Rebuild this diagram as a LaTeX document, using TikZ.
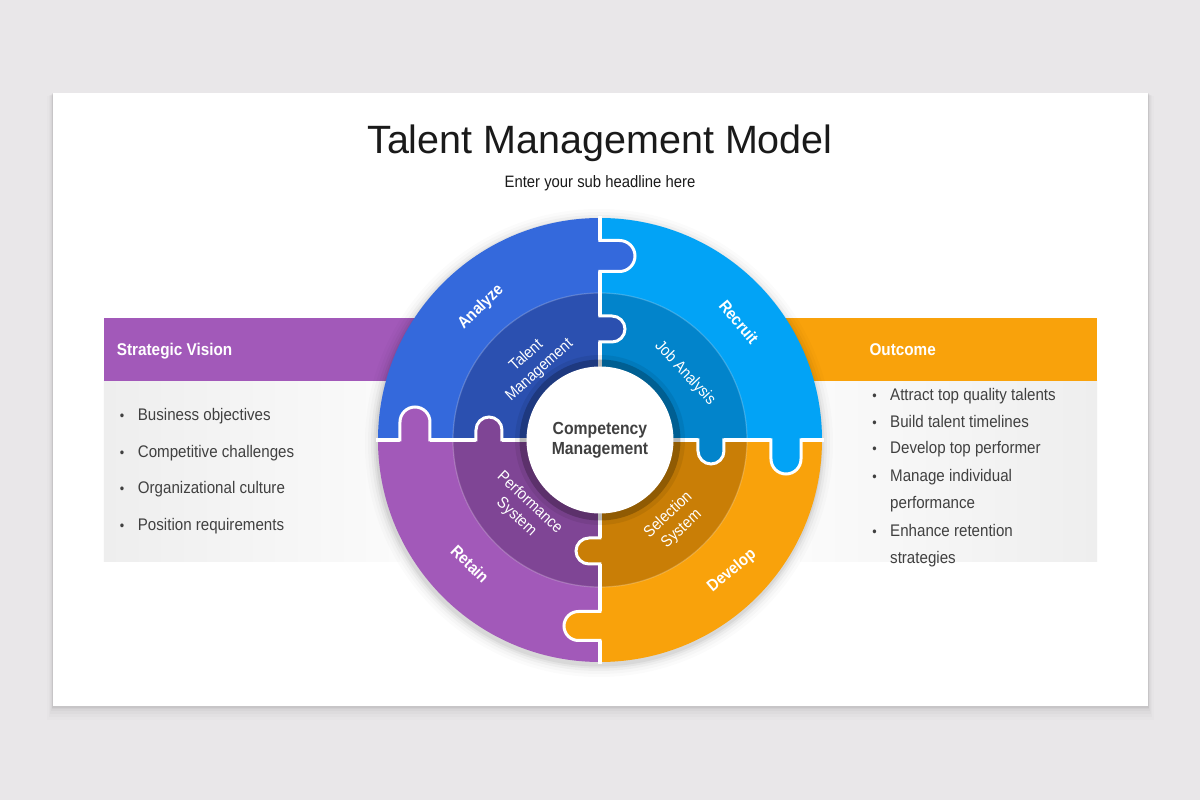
\documentclass[tikz,border=0pt]{standalone}
\usepackage{fontspec}
\setmainfont[FakeStretch=0.9]{Liberation Sans}
\newfontfamily\titlefont{Liberation Sans}
\definecolor{bgc}{HTML}{E9E7E9}
\definecolor{tlo}{HTML}{3469DC}
\definecolor{tlm}{HTML}{2B50B0}
\definecolor{tro}{HTML}{02A3F6}
\definecolor{trm}{HTML}{0284CB}
\definecolor{bro}{HTML}{F9A20B}
\definecolor{brm}{HTML}{C97E06}
\definecolor{blo}{HTML}{A259B9}
\definecolor{blm}{HTML}{7F4595}
\definecolor{pgray}{HTML}{EEEEEE}
\definecolor{pwhite}{HTML}{FBFBFB}
\definecolor{txt}{HTML}{404040}
\definecolor{ttl}{HTML}{1A1A1A}
\tikzset{
  ringlbl/.style={text=white, font=\fontsize{16}{19.5}\selectfont, align=center, inner sep=0pt},
  quadlbl/.style={text=white, font=\bfseries\fontsize{16.5}{19}\selectfont, inner sep=0pt},
  bultxt/.style={text=txt, font=\fontsize{16.8}{20}\selectfont, anchor=base west, inner sep=0pt},
  bulpt/.style={text=txt, font=\fontsize{14}{20}\selectfont, anchor=base, inner sep=0pt},
  headtxt/.style={text=white, font=\bfseries\fontsize{17}{20}\selectfont, anchor=base west, inner sep=0pt},
  gapline/.style={white, line width=3.5},
  tabline/.style={white, line width=3}
}
\newcommand\ptab[5]{%
  \begin{scope}[rotate=#1]
    \fill[#5] (-5,#2-#3) -- (#4-#3,#2-#3) arc[start angle=-90,end angle=90,radius=#3] -- (-5,#2+#3) -- cycle;
    \draw[tabline] (-1.5,#2-#3) -- (#4-#3,#2-#3) arc[start angle=-90,end angle=90,radius=#3] -- (-1.5,#2+#3);
  \end{scope}}
\begin{document}
\begin{tikzpicture}[x=1pt,y=1pt]
\useasboundingbox (-600,-360) rectangle (600,440);
\fill[bgc] (-600,-360) rectangle (600,440);
% card shadow
\foreach \s/\o in {14/0.012,11/0.015,8/0.02,5/0.025,3/0.03,1.5/0.04}{
  \fill[black,opacity=\o] (-547-\s*0.4,-266-\s) rectangle (548+\s*0.4,347-\s*0.2);
}
\fill[white] (-547,-266) rectangle (548,347);
% title
\node[text=ttl, font=\titlefont\fontsize{39.5}{44}\selectfont, anchor=base, inner sep=0pt] (title) at (0,286.5) {Talent Management Model};
\node[text=ttl, font=\fontsize{16.5}{20}\selectfont, anchor=base, inner sep=0pt] (sub) at (0,252) {Enter your sub headline here};
% side panels
\shade[left color=pgray, right color=pwhite] (-496,-122) rectangle (-200,59);
\fill[blo] (-496,59) rectangle (-180,122);
\shade[left color=pwhite, right color=pgray] (200,-122) rectangle (497,59);
\fill[bro] (180,59) rectangle (497,122);
\node[headtxt] (hl) at (-483.3,84.3) {Strategic Vision};
\node[headtxt] (hr) at (269.3,84.3) {Outcome};
\foreach \t [count=\i] in {Business objectives,Competitive challenges,Organizational culture,Position requirements}{
  \pgfmathsetmacro\yy{19-(\i-1)*36.4}
  \node[bulpt] (lbp\i) at (-478,\yy) {•};
  \node[bultxt] (lbt\i) at (-462.3,\yy) {\t};
}
\foreach \t/\yy [count=\i] in {Attract top quality talents/39.3,Build talent timelines/12.7,Develop top performer/-14,Manage individual/-41.7,Enhance retention/-96.7}{
  \node[bulpt] (rbp\i) at (274.5,\yy) {•};
  \node[bultxt] (rbt\i) at (290,\yy) {\t};
}
\node[bultxt] (rbt4b) at (290,-69) {performance};
\node[bultxt] (rbt5b) at (290,-124) {strategies};
% circle shadow
\foreach \r/\o in {234/0.015,231/0.02,228/0.03,225.5/0.04,223.5/0.05}{
  \fill[black,opacity=\o] (-1,-3) circle (\r);
}
% quadrants outer
\fill[tlo] (0,0) -- (-222,0) arc[start angle=180,end angle=90,radius=222] -- cycle;
\fill[tro] (0,0) -- (0,222) arc[start angle=90,end angle=0,radius=222] -- cycle;
\fill[bro] (0,0) -- (222,0) arc[start angle=0,end angle=-90,radius=222] -- cycle;
\fill[blo] (0,0) -- (0,-222) arc[start angle=-90,end angle=-180,radius=222] -- cycle;
% middle ring
\fill[tlm] (0,0) -- (-147,0) arc[start angle=180,end angle=90,radius=147] -- cycle;
\fill[trm] (0,0) -- (0,147) arc[start angle=90,end angle=0,radius=147] -- cycle;
\fill[brm] (0,0) -- (147,0) arc[start angle=0,end angle=-90,radius=147] -- cycle;
\fill[blm] (0,0) -- (0,-147) arc[start angle=-90,end angle=-180,radius=147] -- cycle;
\draw[white,opacity=0.22,line width=1.2] (0,0) circle (147);
% gaps
\draw[gapline] (-224,0) -- (224,0);
\draw[gapline] (0,-224) -- (0,224);
% tabs
\ptab{0}{184}{15.5}{35}{tlo}
\ptab{0}{111}{13}{25}{tlm}
\ptab{-90}{186}{15}{34}{tro}
\ptab{-90}{111}{13}{24}{trm}
\ptab{-180}{186}{14.5}{36}{bro}
\ptab{-180}{111}{13}{24}{brm}
\ptab{-270}{185}{15}{33}{blo}
\ptab{-270}{111}{13}{23}{blm}
% center
\fill[black,opacity=0.22] (0,0) circle (80.5);
\fill[black,opacity=0.07] (0,0) circle (85);
\fill[white] (0,0) circle (73.5);
\node[text=txt, font=\bfseries\fontsize{17.5}{20}\selectfont, align=center, inner sep=0pt] (core) at (0,0) {Competency\\Management};
% quadrant labels
\node[quadlbl, rotate=44] (analyze) at (-119,133) {Analyze};
\node[quadlbl, rotate=-50] (recruit) at (139,118) {Recruit};
\node[quadlbl, rotate=-44] (retain) at (-130,-124) {Retain};
\node[quadlbl, rotate=40] (develop) at (132,-131) {Develop};
% ring labels
\node[ringlbl, rotate=42] (talent) at (-67,77) {Talent\\Management};
\node[ringlbl, rotate=-47] (job) at (85,67) {Job Analysis};
\node[ringlbl, rotate=-43] (perf) at (-77,-70) {Performance\\System};
\node[ringlbl, rotate=43] (sel) at (75,-82) {Selection\\System};
\end{tikzpicture}
\end{document}
